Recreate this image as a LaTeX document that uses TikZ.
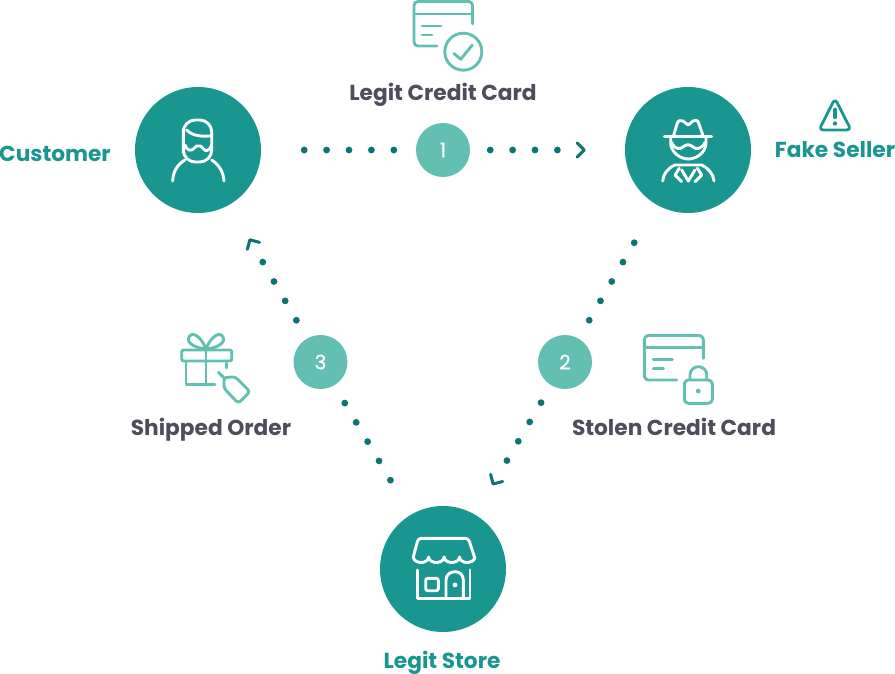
\documentclass[tikz,border=0pt]{standalone}
\usepackage{fontspec}
\setmainfont{Poppins}
\newfontfamily\numfont[FakeBold=0.5]{Poppins}
\usetikzlibrary{arrows.meta}
\definecolor{tealmain}{HTML}{1A9690}
\definecolor{tealsoft}{HTML}{63BFB2}
\definecolor{tealdot}{HTML}{0F7273}
\definecolor{greytext}{HTML}{4D4D5C}
\tikzset{
  actor/.style={shape=circle,fill=tealmain,minimum size=126pt,inner sep=0pt},
  stepnum/.style={shape=circle,fill=tealsoft,minimum size=54pt,inner sep=0pt,text=white,font=\fontsize{20}{20}\numfont},
  lbl/.style={text=greytext,inner sep=0pt,font=\fontsize{21.7}{21.7}\selectfont\bfseries},
  lblteal/.style={lbl,text=tealmain},
  dotline/.style={draw=tealdot,line width=6.8pt,line cap=round,dash pattern=on 0pt off 22.4pt},
  tipline/.style={dotline,dash pattern=on 0pt off 22.4pt on 0pt off 22.4pt on 0pt off 22.4pt on 0pt off 300pt,
    -{Straight Barb[length=7pt,width=14pt,line width=3pt,round]}},
  iconw/.style={draw=white,line width=2.9pt,line cap=round,line join=round},
  icons/.style={draw=tealsoft,line width=2.9pt,line cap=round,line join=round},
}
\begin{document}
\begin{tikzpicture}[x=1pt,y=-1pt]
    \useasboundingbox (0,0) rectangle (895,674);

    \node[actor] (customer) at (198,150) {};
    \node[actor] (seller) at (688,150) {};
    \node[actor] (store) at (443,569) {};

    \node[stepnum] (one) at (443,150) {1};
    \node[stepnum] (two) at (565,362) {2};
    \node[stepnum] (three) at (320.5,362) {3};

    \node[lbl] (legit) at (443,95) {Legit Credit Card};
    \node[lblteal] (buyer) at (55,154) {Customer};
    \node[lblteal] (fake) at (835,150) {Fake Seller};
    \node[lbl] (shipped) at (211,430) {Shipped Order};
    \node[lbl] (stolen) at (674,427) {Stolen Credit Card};
    \node[lblteal] (shop) at (442,662.5) {Legit Store};

    \draw[dotline,shorten <=43pt,shorten >=20pt] (customer) -- (one);
    \draw[tipline,shorten <=20pt,shorten >=39pt] (one) -- (seller);
    \draw[dotline,shorten <=44pt,shorten >=19pt] (seller) -- (two);
    \draw[tipline,shorten <=20pt,shorten >=34pt] (two) -- (store);
    \draw[dotline,shorten <=40pt,shorten >=19pt] (store) -- (three);
    \draw[tipline,shorten <=21pt,shorten >=39pt] (three) -- (customer);

    % customer
    \draw[iconw,rounded corners=12pt] (183.3,141) -- (183.3,120) -- (211.7,120) -- (211.7,162) -- (183.3,162) -- cycle;
    \draw[iconw] (186.7,130) .. controls (192,136) and (203,137) .. (211.7,135.7);
    \draw[iconw] (185,145) .. controls (187,151) and (191,151) .. (193.3,149) .. controls (196,146) and (198,145) .. (200,146) .. controls (202,146) and (204,151) .. (206.7,150.7) .. controls (209,150) and (211,148) .. (211.7,145);
    \draw[iconw] (172.7,181) .. controls (173,171) and (178,164) .. (185,160);
    \draw[iconw] (224,181) .. controls (223.5,171) and (218,164) .. (211.7,160);

    % seller
    \draw[iconw] (664.3,136.7) -- (711.7,136.7);
    \draw[iconw] (673.3,136.7) -- (677,124) .. controls (678,120) and (681,120) .. (683,121) -- (688.3,125) -- (693,121) .. controls (696,120) and (698,120) .. (699,124) -- (703.3,136.7);
    \draw[iconw] (670.7,136.7) -- (670.7,143) .. controls (670.7,152) and (680,159) .. (688.3,159) .. controls (697,159) and (706,152) .. (706,143) -- (706,136.7);
    \draw[iconw] (671.7,142.3) .. controls (674,149) and (680,150) .. (683,147) .. controls (686,144) and (690,144) .. (693,147) .. controls (696,150) and (702,149) .. (705,142.3);
    \draw[iconw] (662.7,181) .. controls (663,174) and (668,168) .. (675,165) -- (701.7,165) .. controls (708,168) and (713.5,174) .. (714,181);
    \draw[iconw] (681.7,170) -- (688.3,181) -- (695,170);
    \draw[iconw] (679.3,168.3) -- (675,175) -- (681.7,181.7);
    \draw[iconw] (697.3,168.3) -- (701.7,175) -- (695,181.7);

    % store
    \draw[iconw,rounded corners=3pt] (413.3,557) -- (418.3,538.3) -- (468.3,538.3) -- (474.5,557);
    \draw[iconw] (413.3,557) arc[start angle=180,end angle=360,x radius=7.7pt,y radius=5.5pt] arc[start angle=180,end angle=360,x radius=7.7pt,y radius=5.5pt] arc[start angle=180,end angle=360,x radius=7.7pt,y radius=5.5pt] arc[start angle=180,end angle=360,x radius=7.7pt,y radius=5.5pt];
    \draw[iconw] (417.7,570) -- (417.7,598.3) -- (470,598.3) -- (470,570);
    \draw[iconw,rounded corners=2pt] (425.7,578.3) rectangle (438.3,590.7);
    \draw[iconw] (446,598.3) -- (446,580) .. controls (446,575) and (450,571.7) .. (455,571.7) .. controls (460,571.7) and (463.3,575) .. (463.3,580) -- (463.3,598.3);
    \fill[white] (455,585) circle (2.4pt);

    % legit card
    \draw[icons,rounded corners=4pt] (472.5,24) -- (472.5,1.5) -- (414,1.5) -- (414,46) -- (437,46);
    \draw[icons] (414,14) -- (472.5,14);
    \draw[icons] (422,26) -- (441,26);
    \draw[icons] (422,35) -- (432,35);
    \draw[icons] (463.3,51.7) circle (18.5pt);
    \draw[icons] (454,53.5) -- (460.7,59.3) -- (472.3,45);

    % warning
    \draw[draw=tealmain,line width=2.8pt,line join=round,rounded corners=4pt] (835,98.5) -- (819,130) -- (851,130) -- cycle;
    \draw[draw=tealmain,line width=3.4pt,line cap=round] (835,109.3) -- (835,117.5);
    \fill[tealmain] (835,123.5) circle (2.2pt);

    % gift
    \draw[icons,rounded corners=2pt] (181.7,350) rectangle (231.7,361);
    \draw[icons] (186,361) -- (186,384.3) -- (215,384.3);
    \draw[icons] (226.7,363.3) -- (226.7,368);
    \draw[icons] (206,350) -- (206,384.3);
    \draw[icons] (206,349) .. controls (201,336) and (192,331) .. (189,337) .. controls (186,343) and (195,348) .. (206,349);
    \draw[icons] (206,349) .. controls (211,336) and (220,331) .. (223,337) .. controls (226,343) and (217,348) .. (206,349);
    \draw[icons] (218.3,372.3) -- (224,377.7);
    \draw[icons,rounded corners=3pt] (224,377.7) -- (235,376.7) -- (250,391.7) -- (238.3,403.3) -- (224,388.3) -- cycle;

    % stolen card
    \draw[icons,rounded corners=4pt] (703.3,358.3) -- (703.3,335.5) -- (644.3,335.5) -- (644.3,380) -- (676.7,380);
    \draw[icons] (644.3,347.7) -- (703.3,347.7);
    \draw[icons] (653.3,359.3) -- (672.3,359.3);
    \draw[icons] (653.3,368.3) -- (663.3,368.3);
    \draw[icons,rounded corners=4pt] (684.3,380) rectangle (712.3,403.3);
    \draw[icons] (690,380) -- (690,375) .. controls (690,370) and (694,366.7) .. (698.3,366.7) .. controls (703,366.7) and (706.7,370) .. (706.7,375) -- (706.7,380);
    \fill[tealsoft] (698.3,391) circle (2.4pt);
\end{tikzpicture}
\end{document}
